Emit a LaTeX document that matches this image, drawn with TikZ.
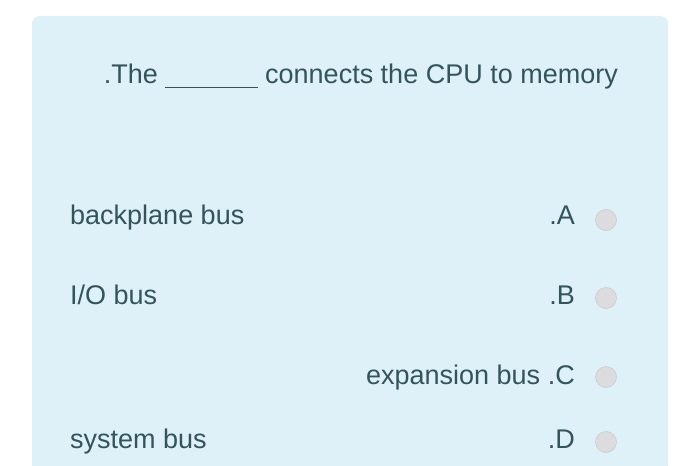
\documentclass[tikz,border=0pt]{standalone}
\usepackage{fontspec}
\setmainfont{Liberation Sans}
\definecolor{txt}{HTML}{34545C}
\definecolor{panel}{HTML}{DEF0F8}
\definecolor{radio}{HTML}{DCDCDE}
\begin{document}
\begin{tikzpicture}[x=1pt,y=-1pt,
  lbl/.style={font=\fontsize{27}{30}\selectfont, text=txt, inner sep=0pt},
  rbtn/.style={circle, minimum size=21pt, inner sep=0pt, fill=radio, draw=gray!40, line width=0.6pt}]
\useasboundingbox (0,0) rectangle (700,465);
\fill[white] (0,0) rectangle (700,465);
\fill[panel, rounded corners=8pt] (32,16) rectangle (668,480);
\node[lbl, anchor=base east] (q1) at (158,84) {.The};
\coordinate (u1) at (165,88);
\coordinate (u2) at (258,88);
\draw[txt, line width=1pt] (u1) -- (u2);
\node[lbl, anchor=base west] (q2) at (265,84) {connects the CPU to memory};
\node[lbl, anchor=base west] (a1) at (70,224) {backplane bus};
\node[lbl, anchor=base east] (a2) at (575,224) {.A};
\node[rbtn] (ra) at (606,220) {};
\node[lbl, anchor=base west] (b1) at (70,304) {I/O bus};
\node[lbl, anchor=base east] (b2) at (575,304) {.B};
\node[rbtn] (rb) at (606,298) {};
\node[lbl, anchor=base east] (c2) at (575,384) {expansion bus .C};
\node[rbtn] (rc) at (606,377) {};
\node[lbl, anchor=base west] (d1) at (70,448) {system bus};
\node[lbl, anchor=base east] (d2) at (575,448) {.D};
\node[rbtn] (rd) at (606,442) {};
\end{tikzpicture}
\end{document}
